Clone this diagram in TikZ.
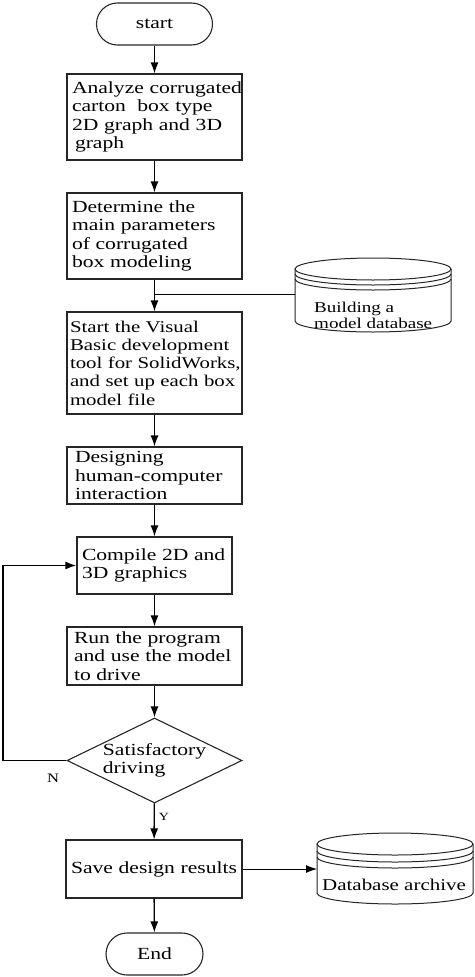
\documentclass[tikz,border=0pt]{standalone}
\usepackage{fontspec}
\setmainfont[FakeStretch=1.27]{Liberation Serif}
\usetikzlibrary{shapes.geometric,arrows.meta}
\newcommand{\LL}[1]{\mbox{#1}}
\tikzset{
  boxnode/.style={draw=black!85, line width=1.1pt, rectangle, minimum width=175pt, text width=165pt,
    inner xsep=5pt, inner ysep=0pt, align=left, font=\fontsize{17}{18.3}\selectfont},
  termnode/.style={draw=black!85, line width=1.1pt, rectangle, rounded corners=21pt, minimum height=42pt,
    inner sep=0pt, font=\fontsize{17}{18.3}\selectfont},
  decnode/.style={draw=black!85, line width=1.1pt, diamond, aspect=2.06, minimum width=175pt, minimum height=85pt,
    inner sep=0pt, align=left, font=\fontsize{17}{18.3}\selectfont},
  cyl/.style={draw=black!85, line width=1pt},
  cyltext/.style={inner sep=0pt, anchor=west, align=left},
  flow/.style={line width=1.4pt, -{Latex[length=11pt,width=8pt]}},
  thinflow/.style={line width=0.9pt, -{Latex[length=11pt,width=8pt]}},
  thinline/.style={line width=0.9pt},
  yn/.style={inner sep=0pt}
}
\begin{document}
\begin{tikzpicture}[x=1pt,y=1pt]
\useasboundingbox (0,0) rectangle (474,-977);

\node[termnode, minimum width=116pt] (start) at (154.5,-24) {start};
\node[boxnode, minimum height=86pt] (b1) at (154.5,-117)
  {\LL{Analyze corrugated}\\\LL{carton\ \ box type}\\\LL{2D graph and 3D}\\\LL{\hspace{3pt}graph}};
\node[boxnode, minimum height=86pt] (b2) at (154.5,-236)
  {\LL{Determine the}\\\LL{main parameters}\\\LL{of corrugated}\\\LL{box modeling}};
\node[boxnode, minimum height=102pt, inner xsep=3pt, text width=169pt, font=\fontsize{16.4}{18.3}\selectfont] (b3) at (154.5,-363)
  {\LL{Start the Visual}\\\LL{Basic development}\\\LL{tool for SolidWorks,}\\\LL{and set up each box}\\\LL{model file}};
\node[boxnode, minimum height=57pt, inner xsep=8pt, text width=159pt] (b4) at (154.5,-475.5)
  {\LL{Designing}\\\LL{human-computer}\\\LL{interaction}};
\node[boxnode, minimum height=57pt, minimum width=155pt, text width=145pt] (b5) at (154.5,-565.5)
  {\LL{Compile 2D and}\\\LL{3D graphics}};
\node[boxnode, minimum height=58pt, inner xsep=7pt, text width=161pt] (b6) at (154.5,-656)
  {\LL{Run the program}\\\LL{and use the model}\\\LL{to drive}};
\node[decnode] (dia) at (154.5,-760.5) {Satisfactory\\driving};
\node[boxnode, minimum height=58pt, minimum width=176pt, text width=166pt] (b7) at (154,-869)
  {\LL{Save design results}};
\node[termnode, minimum width=97pt] (end) at (154.5,-954) {End};

% database cylinder 1
\draw[cyl] (373,-269) ellipse [x radius=78pt, y radius=11pt];
\draw[cyl] (295,-269) -- (295,-321) arc[start angle=180, end angle=360, x radius=78pt, y radius=11pt] -- (451,-269);
\draw[cyl] (295,-274) arc[start angle=180, end angle=360, x radius=78pt, y radius=11pt];
\draw[cyl] (295,-279) arc[start angle=180, end angle=360, x radius=78pt, y radius=11pt];
\node[cyltext, font=\fontsize{15}{16}\selectfont] (db1) at (314,-315) {Building a\\model database};
\coordinate (c1w) at (295,-294);
\coordinate (j1) at (154.5,-294);

% database cylinder 2
\draw[cyl] (395,-844) ellipse [x radius=78pt, y radius=11pt];
\draw[cyl] (317,-844) -- (317,-893) arc[start angle=180, end angle=360, x radius=78pt, y radius=11pt] -- (473,-844);
\draw[cyl] (317,-851) arc[start angle=180, end angle=360, x radius=78pt, y radius=11pt];
\draw[cyl] (317,-857) arc[start angle=180, end angle=360, x radius=78pt, y radius=11pt];
\node[cyltext, font=\fontsize{16.5}{18}\selectfont] (db2) at (322,-885) {Database archive};
\coordinate (c2w) at (317,-869);

% connectors
\draw[flow] (start) -- (b1);
\draw[flow] (b1) -- (b2);
\draw[flow] (b2) -- (b3);
\draw[thinline] (c1w) -- (j1);
\draw[flow] (b3) -- (b4);
\draw[flow] (b4) -- (b5);
\draw[flow] (b5) -- (b6);
\draw[flow] (b6) -- (dia);
\draw[flow] (dia) -- (b7);
\draw[flow] (b7) -- (end);
\draw[thinflow] (b7.east) -- (c2w);
\coordinate (fb) at (3,-760.5);
\draw[thinline] (dia.west) -- (fb);
\draw[flow, line width=1.8pt] (fb) |- (b5.west);

\node[yn, font=\fontsize{13}{14}\selectfont] (nlab) at (53,-778) {N};
\node[yn, font=\fontsize{11}{12}\selectfont] (ylab) at (164,-817) {Y};
\end{tikzpicture}
\end{document}
